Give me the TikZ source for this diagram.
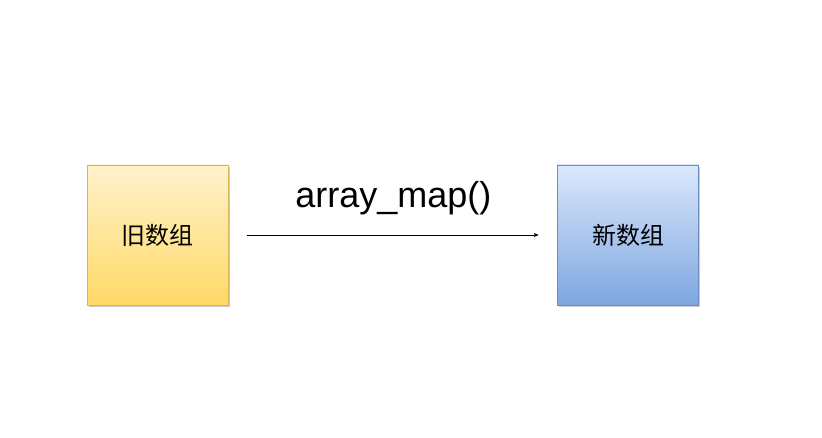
\documentclass[tikz,border=0pt]{standalone}
\usepackage{fontspec}
\setmainfont{Liberation Sans}
\newfontfamily\cjk{Noto Sans CJK SC}
\usepackage{xcolor}
\usepackage{tikz}
\usetikzlibrary{arrows, positioning, calc, shadows}

\definecolor{oldtop}{HTML}{FFF2CC}
\definecolor{oldbot}{HTML}{FFD966}
\definecolor{oldline}{HTML}{D6B656}
\definecolor{newtop}{HTML}{DAE8FC}
\definecolor{newbot}{HTML}{7EA6E0}
\definecolor{newline}{HTML}{6C8EBF}

\begin{document}
\begin{tikzpicture}[x=1pt,y=1pt,>=stealth',shorten >=1pt,auto,node distance=329pt,
				array box/.style={rectangle,draw,line width=0.6pt,minimum width=141pt,minimum height=140pt,
					inner sep=0pt,font=\cjk\fontsize{24}{28}\selectfont,
					drop shadow={shadow xshift=1.5pt,shadow yshift=-2.5pt,opacity=0.2,fill=black}},
				old box/.style={array box,draw=oldline,top color=oldtop,bottom color=oldbot},
				new box/.style={array box,draw=newline,top color=newtop,bottom color=newbot}]
				
				\useasboundingbox (0,0) rectangle (822,438);
				
				\node[old box] (old) at (157.5,203) {旧数组};
				\node[new box] (new) [right=of old] {新数组};
				
				\path[draw,->,line width=0.6pt]
				
				([xshift=19pt]old.east) -- node[anchor=base,yshift=27pt,font=\fontsize{36}{42}\selectfont] (fn) {array\_map()} ([xshift=-18pt]new.west);
			\end{tikzpicture}
\end{document}
